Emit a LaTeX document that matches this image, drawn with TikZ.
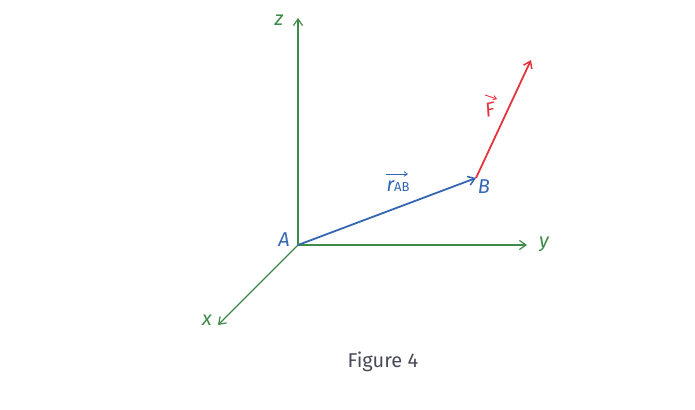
\documentclass[tikz,border=0pt]{standalone}
\usepackage{fontspec}
\setmainfont{Fira Sans}
\usetikzlibrary{arrows.meta}
\definecolor{axisgreen}{RGB}{62,138,72}
\definecolor{vecblue}{RGB}{52,102,178}
\definecolor{vecred}{RGB}{228,52,62}
\definecolor{capgray}{RGB}{72,74,88}
\tikzset{
  axis/.style={draw=axisgreen, line width=1.3pt, -{Straight Barb[angle=70:8pt, line width=1.2pt]}},
  vecb/.style={draw=vecblue, line width=1.8pt, -{Straight Barb[angle=70:8pt, line width=1.5pt]}},
  vecr/.style={draw=vecred, line width=1.8pt, -{Straight Barb[angle=70:8pt, line width=1.5pt]}},
  overarrow/.style={line width=0.9pt, -{Straight Barb[angle=70:4pt, line width=0.8pt]}},
  axlabel/.style={text=axisgreen, font=\itshape\fontsize{20}{20}\selectfont, inner sep=0pt},
  ptlabel/.style={text=vecblue, font=\itshape\fontsize{20}{20}\selectfont, inner sep=0pt},
}
\begin{document}
\begin{tikzpicture}[x=1pt, y=-1pt]
\useasboundingbox (0,0) rectangle (695,409);
\coordinate (A) at (298,245);
\coordinate (Z) at (298,18);
\coordinate (Y) at (527,245);
\coordinate (X) at (218,325);
\coordinate (B) at (476,178);
\coordinate (F) at (531,60);
\draw[axis] (A) -- (Z);
\draw[axis] (A) -- (Y);
\draw[axis] (A) -- (X);
\draw[vecb] (A) -- (B);
\draw[vecr] (B) -- (F);
\node[axlabel] (zl) at (279,20) {z};
\node[axlabel] (yl) at (544,244) {y};
\node[axlabel] (xl) at (207,320) {x};
\node[ptlabel] (Al) at (284,240) {A};
\node[ptlabel] (Bl) at (484,187) {B};
\node[ptlabel] (rl) at (398,186) {r\fontsize{13}{13}\selectfont\upshape AB};
\coordinate (ra1) at (386,174);
\coordinate (ra2) at (408,174);
\draw[overarrow, draw=vecblue] (ra1) -- (ra2);
\node[text=vecred, font=\itshape\fontsize{20}{20}\selectfont, inner sep=0pt, rotate=12] (Fl) at (490,110) {F};
\coordinate (fa1) at (485,95);
\coordinate (fa2) at (497,99);
\draw[overarrow, draw=vecred] (fa1) -- (fa2);
\node[text=capgray, font=\fontsize{20}{20}\selectfont] (cap) at (383,362) {Figure 4};
\end{tikzpicture}
\end{document}
